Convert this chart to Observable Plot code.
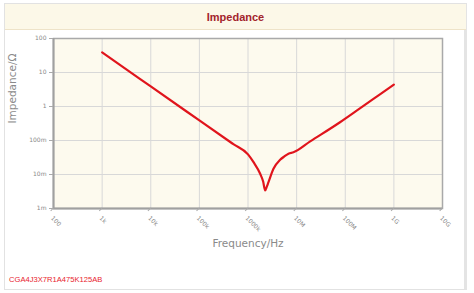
<!DOCTYPE html>
<html><head><meta charset="utf-8">
<script src="https://cdn.jsdelivr.net/npm/d3@7"></script>
<script src="https://cdn.jsdelivr.net/npm/@observablehq/plot@0.6"></script>
<style>
html,body{margin:0;padding:0;background:#fff;}
#wrap{position:relative;width:474px;height:293px;overflow:hidden;font-family:"Liberation Sans",Arial,sans-serif;}
#frame{position:absolute;left:4px;top:3px;width:463px;height:287px;border:1px solid #e2e2e2;border-right:3px solid #e4e4e4;box-sizing:border-box;}
#title{position:absolute;left:5px;top:4px;width:461px;height:25px;background:#fcf8e8;border-bottom:1px solid #eee3c8;text-align:center;line-height:27px;font-weight:bold;font-size:11px;color:#a3242c;}
#chart{position:absolute;left:0;top:30px;}
#cap{position:absolute;left:9px;top:275px;font-size:7.6px;color:#e8232d;}
</style></head>
<body><div id="wrap"><div id="frame"></div><div id="title">Impedance</div><div id="chart"></div><div id="cap">CGA4J3X7R1A475K125AB</div></div>
<script>
const freqHz = [1e3, 1e4, 1e5, 5e5, 1e6, 1.3e6, 1.78e6, 2.05e6, 2.25e6, 2.45e6, 2.64e6, 3.34e6, 4.58e6, 5.6e6, 6.8e6, 8.6e6, 1.9e7, 7.8e7, 2e8, 5e8, 1e9];
const impedanceOhm = [39, 3.9, 0.39, 0.078, 0.039, 0.023, 0.0105, 0.0062, 0.0034, 0.0045, 0.006, 0.0147, 0.027, 0.034, 0.041, 0.045, 0.094, 0.345, 0.88, 2.2, 4.4];
const xTicks = [1e2, 1e3, 1e4, 1e5, 1e6, 1e7, 1e8, 1e9, 1e10];
const xTickLabels = ["100", "1k", "10k", "100k", "1000k", "10M", "100M", "1G", "10G"];
const yTicks = [1e2, 1e1, 1, 1e-1, 1e-2, 1e-3];
const yTickLabels = ["100", "10", "1", "100m", "10m", "1m"];
const data = freqHz.map((f, i) => ({f, z: impedanceOhm[i]}));

const plot = Plot.plot({
  width: 474, height: 232,
  marginLeft: 53, marginRight: 32, marginTop: 8, marginBottom: 54,
  style: {background: "transparent", fontFamily: "'DejaVu Sans', Verdana, sans-serif"},
  x: {type: "log", domain: [1e2, 1e10]},
  y: {type: "log", domain: [1e-3, 1e2]},
  marks: [
    Plot.frame({fill: "#fdfaee", stroke: null}),
    Plot.gridX(xTicks, {stroke: "#d8d8d8", strokeOpacity: 1, strokeWidth: 1}),
    Plot.gridY(yTicks, {stroke: "#d8d8d8", strokeOpacity: 1, strokeWidth: 1}),
    Plot.frame({stroke: "#a9a9a9", strokeWidth: 1.5}),
    Plot.ruleX([1e2], {stroke: "#a0a0a0", strokeWidth: 2}),
    Plot.ruleY([1e-3], {stroke: "#a0a0a0", strokeWidth: 2}),
    Plot.axisX(xTicks, {tickFormat: (d) => xTickLabels[xTicks.indexOf(d)], tickSize: 4, tickPadding: 3, rotate: 45, textAnchor: "start", fontSize: 6, fill: "#888", stroke: "#aaa", label: null}),
    Plot.axisY(yTicks, {tickFormat: (d) => yTickLabels[yTicks.indexOf(d)], tickSize: 4, tickPadding: 3, fontSize: 6, fill: "#888", stroke: "#aaa", label: null}),
    Plot.text(["Frequency/Hz"], {frameAnchor: "bottom", dy: 38, fontSize: 10.5, fill: "#8a8a8a", text: d => d}),
    Plot.text(["Impedance/Ω"], {frameAnchor: "left", dx: -41, rotate: -90, fontSize: 10.5, fill: "#8a8a8a", text: d => d}),
    Plot.line(data, {x: "f", y: "z", stroke: "#e0141c", strokeWidth: 2.2, curve: "monotone-x"})
  ]
});
document.getElementById("chart").appendChild(plot);
</script></body></html>
